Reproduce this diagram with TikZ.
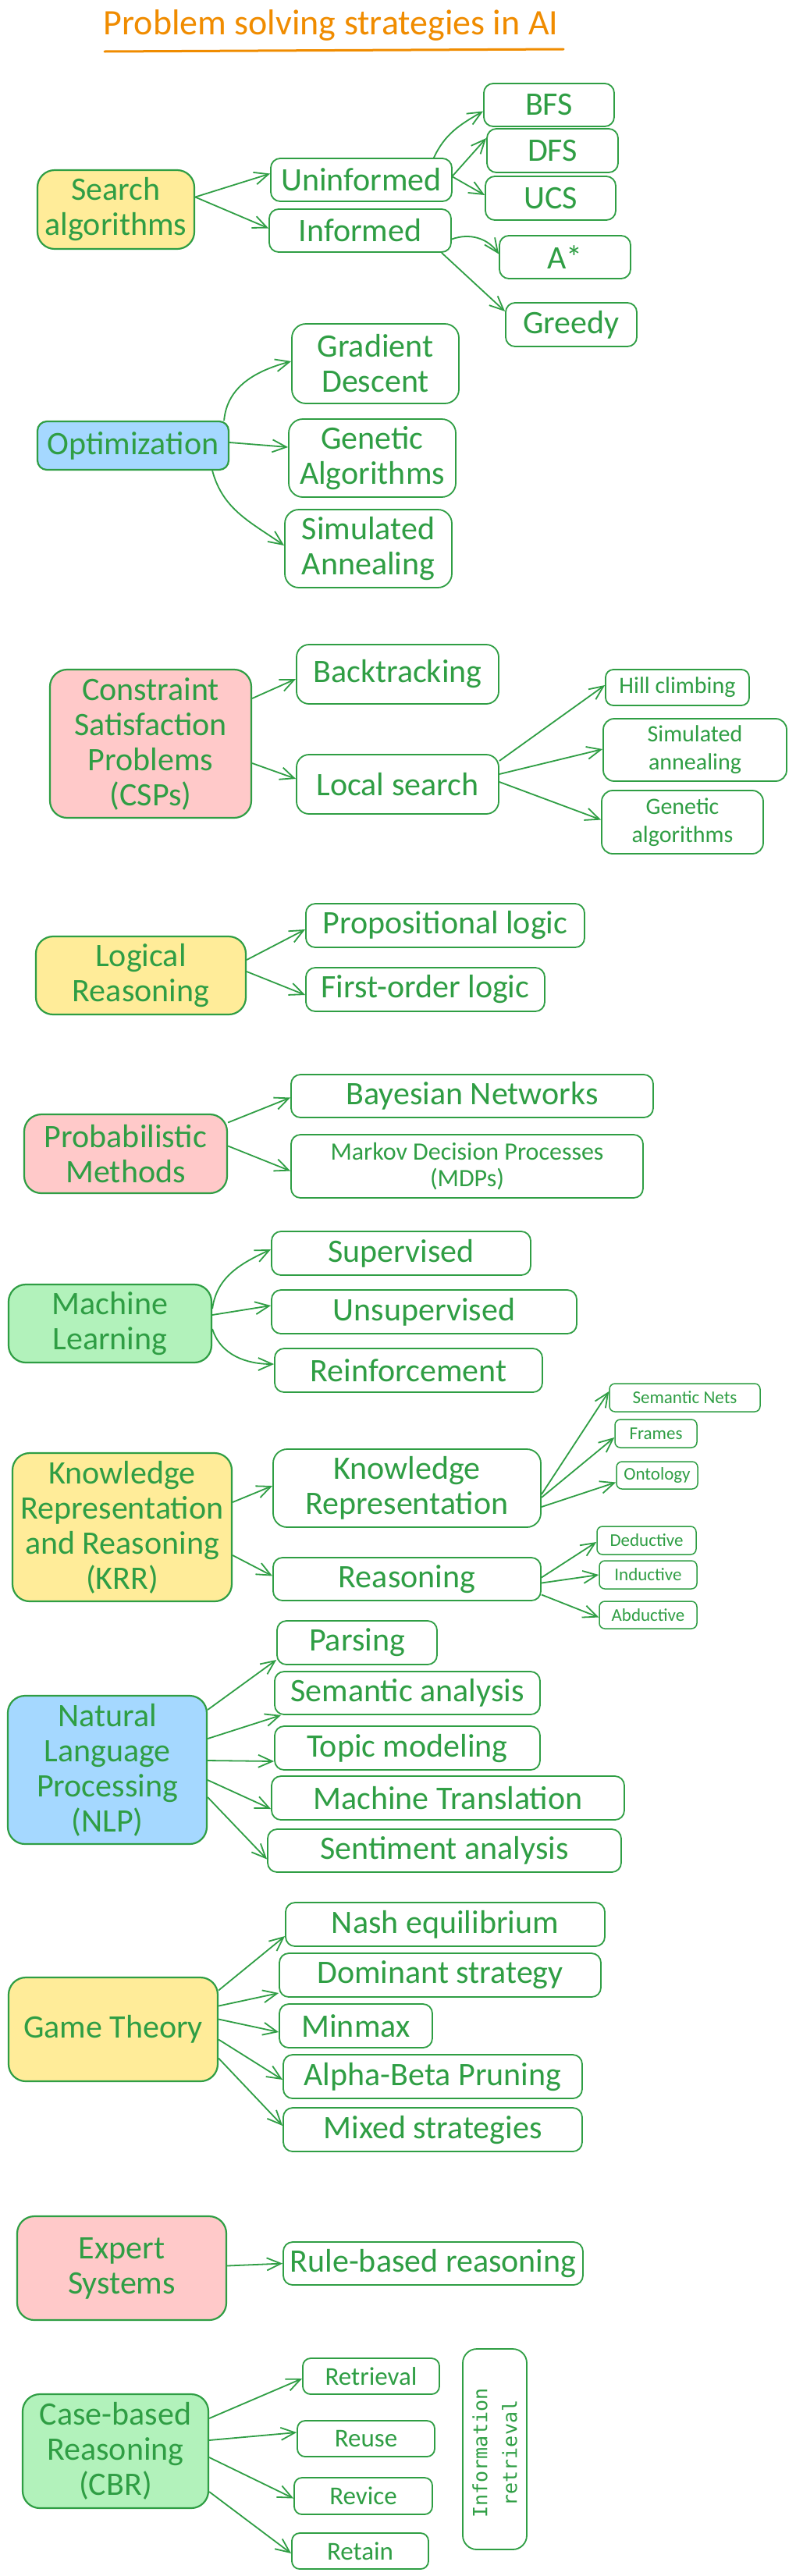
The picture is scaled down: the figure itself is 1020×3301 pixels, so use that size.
\documentclass[tikz,border=0pt]{standalone}
\usepackage{fontspec}
\setmainfont{Carlito}
\newfontfamily\monofont{DejaVu Sans Mono}
\usetikzlibrary{arrows.meta}
\definecolor{grn}{HTML}{2F9E44}
\definecolor{fyel}{HTML}{FFEC99}
\definecolor{fblu}{HTML}{A5D8FF}
\definecolor{fred}{HTML}{FFC9C9}
\definecolor{fgrn}{HTML}{B2F2BB}
\definecolor{orng}{HTML}{F08C00}
\tikzset{
  box/.style={draw=grn, line width=1.8pt, rounded corners=12pt, text=grn, fill=white,
    inner sep=0pt, align=center, font=\fontsize{42}{45}\selectfont},
  parentbox/.style={box, line width=2.2pt, rounded corners=22pt},
  nsmall/.style={font=\fontsize{30}{36}\selectfont, rounded corners=10pt},
  nmid/.style={font=\fontsize{33}{36}\selectfont, rounded corners=10pt},
  ntiny/.style={font=\fontsize{23}{26}\selectfont, rounded corners=7pt, line width=1.5pt},
  sz/.style 2 args={minimum width=#1, minimum height=#2},
  arr/.style={draw=grn, line width=1.8pt, -{Straight Barb[length=18pt,width=16pt]}},
}
\begin{document}
\begin{tikzpicture}[x=1pt,y=-1pt]
\useasboundingbox[fill=white] (0,0) rectangle (1020,3301);

% title
\node[text=orng, font=\fontsize{46}{50}\selectfont, anchor=base, inner sep=0pt] (title) at (424,44) {Problem solving strategies in AI};
\coordinate (ul1) at (134,66);
\coordinate (ul2) at (722,63);
\draw[orng, line width=3pt, line cap=round] (ul1) -- (ul2);

% Search algorithms
\node[parentbox, fill=fyel, sz={201}{101}] (sa) at (148.5,268.5) {Search\\algorithms};
\node[box, sz={232}{55}] (un) at (463,230.5) {Uninformed};
\node[box, sz={233}{55}] (inf) at (461.5,295.5) {Informed};
\node[box, sz={167}{55}] (bfs) at (703.5,134.5) {BFS};
\node[box, sz={168}{56}] (dfs) at (708,193) {DFS};
\node[box, sz={167}{56}] (ucs) at (705.5,254) {UCS};
\node[box, sz={168}{55}] (ast) at (724,329.5) {A*};
\node[box, sz={168}{56}] (gre) at (732,416) {Greedy};

% Optimization
\node[parentbox, fill=fblu, rounded corners=12pt, sz={245}{62}] (opt) at (170.5,571) {Optimization};
\node[box, rounded corners=18pt, sz={214}{102}] (gd) at (481,466) {Gradient\\Descent};
\node[box, rounded corners=18pt, sz={214}{100}] (ga) at (477,587) {Genetic\\Algorithms};
\node[box, rounded corners=18pt, sz={214}{100}] (sim) at (472,703) {Simulated\\Annealing};

% CSP
\node[parentbox, fill=fred, sz={258}{190}] (csp) at (193,953) {Constraint\\Satisfaction\\Problems\\(CSPs)};
\node[box, rounded corners=16pt, sz={259}{76}] (bt) at (509.5,864) {Backtracking};
\node[box, rounded corners=16pt, sz={259}{76}] (ls) at (509.5,1005) {Local search};
\node[box, nsmall, sz={184}{46}] (hill) at (868,881) {Hill climbing};
\node[box, nsmall, rounded corners=14pt, sz={235}{80}] (sa2) at (890.5,961) {Simulated\\annealing};
\node[box, nsmall, rounded corners=14pt, sz={207}{81}] (ga2) at (874.5,1053.5) {Genetic\\algorithms};

% Logical reasoning
\node[parentbox, fill=fyel, sz={269}{100}] (lr) at (180.5,1250) {Logical\\Reasoning};
\node[box, sz={357}{56}] (pl) at (570.5,1186) {Propositional logic};
\node[box, sz={306}{56}] (fol) at (545,1268) {First-order logic};

% Probabilistic
\node[parentbox, fill=fred, sz={260}{101}] (pm) at (161,1478.5) {Probabilistic\\Methods};
\node[box, sz={464}{55}] (bn) at (605,1404.5) {Bayesian Networks};
\node[box, font=\fontsize{32}{34}\selectfont, sz={451}{81}] (mdp) at (598.5,1494.5) {Markov Decision Processes\\(MDPs)};

% Machine learning
\node[parentbox, fill=fgrn, sz={260}{100}] (ml) at (141,1696) {Machine\\Learning};
\node[box, sz={332}{56}] (sup) at (514,1606) {Supervised};
\node[box, sz={391}{56}] (uns) at (543.5,1681) {Unsupervised};
\node[box, sz={343}{56}] (rein) at (523.5,1756) {Reinforcement};

% KRR
\node[parentbox, fill=fyel, sz={281}{190}] (krr) at (156.5,1957) {Knowledge\\Representation\\and Reasoning\\(KRR)};
\node[box, rounded corners=18pt, sz={343}{100}] (kr) at (521.5,1907) {Knowledge\\Representation};
\node[box, sz={343}{55}] (rsn) at (521.5,2023.5) {Reasoning};
\node[box, ntiny, sz={193}{36}] (sn) at (877.5,1791) {Semantic Nets};
\node[box, ntiny, sz={105}{36}] (fr) at (840.5,1837) {Frames};
\node[box, ntiny, sz={104}{35}] (ont) at (842,1890.5) {Ontology};
\node[box, ntiny, sz={127}{36}] (ded) at (828.5,1974) {Deductive};
\node[box, ntiny, sz={125}{36}] (ind) at (830.5,2018) {Inductive};
\node[box, ntiny, sz={125}{35}] (abd) at (830.5,2069.5) {Abductive};

% NLP
\node[parentbox, fill=fblu, sz={255}{190}] (nlp) at (137.5,2268) {Natural\\Language\\Processing\\(NLP)};
\node[box, sz={205}{56}] (pars) at (457.5,2105) {Parsing};
\node[box, sz={340}{55}] (sema) at (522,2169.5) {Semantic analysis};
\node[box, sz={340}{56}] (top) at (522,2240) {Topic modeling};
\node[box, sz={452}{56}] (mt) at (574,2304) {Machine Translation};
\node[box, sz={453}{55}] (sent) at (569.5,2371.5) {Sentiment analysis};

% Game theory
\node[parentbox, fill=fyel, sz={268}{133}] (gt) at (145,2600.5) {Game Theory};
\node[box, sz={409}{56}] (nash) at (570.5,2466) {Nash equilibrium};
\node[box, sz={412}{56}] (dom) at (564,2531) {Dominant strategy};
\node[box, sz={196}{56}] (mm) at (456,2596) {Minmax};
\node[box, sz={383}{56}] (ab) at (554.5,2661) {Alpha-Beta Pruning};
\node[box, sz={383}{56}] (mix) at (554.5,2729) {Mixed strategies};

% Expert systems
\node[parentbox, fill=fred, sz={268}{133}] (es) at (156,2906.5) {Expert\\Systems};
\node[box, sz={384}{55}] (rule) at (555,2900.5) {Rule-based reasoning};

% CBR
\node[parentbox, fill=fgrn, sz={238}{146}] (cbr) at (148,3141) {Case-based\\Reasoning\\(CBR)};
\node[box, nmid, sz={175}{46}] (retr) at (475.5,3045) {Retrieval};
\node[box, nmid, sz={176}{46}] (reuse) at (469,3125) {Reuse};
\node[box, nmid, sz={177}{47}] (rev) at (465.5,3198.5) {Revice};
\node[box, nmid, sz={175}{46}] (ret) at (461.5,3269) {Retain};
\node[box, rounded corners=18pt, sz={82}{257}] (ir) at (634,3138.5) {};
\node[text=grn, rotate=90, align=center, inner sep=0pt, font=\monofont\fontsize{25}{38}\selectfont] (irt) at ([yshift=-5]ir.center) {Information\\retrieval};

% arrows: search
\draw[arr] ([yshift=16]sa.east) -- ([yshift=8]un.west);
\draw[arr] ([yshift=16]sa.east) -- ([yshift=3]inf.west);
\draw[arr] ([xshift=-24]un.north east) to[out=65,in=210] ([yshift=-8]bfs.west);
\draw[arr] ([yshift=5]un.east) -- ([yshift=16]dfs.west);
\draw[arr] ([yshift=4]un.east) -- ([yshift=4]ucs.west);
\draw[arr] ([yshift=-11]inf.east) to[out=20,in=125] ([yshift=4]ast.west);
\draw[arr] ([xshift=-13]inf.south east) -- ([yshift=17]gre.west);

% optimization
\draw[arr] ([xshift=-7]opt.north east) to[out=85,in=195] ([yshift=3]gd.west);
\draw[arr] ([yshift=4]opt.east) -- ([yshift=14]ga.west);
\draw[arr] ([xshift=-22]opt.south east) to[out=-75,in=145] ([yshift=4]sim.west);

% csp
\draw[arr] ([yshift=58]csp.east) -- ([yshift=-6]bt.west);
\draw[arr] ([yshift=-25]csp.east) -- ([yshift=7]ls.west);
\draw[arr] ([yshift=30]ls.east) -- ([yshift=3]hill.west);
\draw[arr] ([yshift=13]ls.east) -- ([yshift=1]sa2.west);
\draw[arr] ([yshift=3]ls.east) -- ([yshift=3]ga2.west);

% logical
\draw[arr] ([yshift=20]lr.east) -- ([yshift=-5]pl.west);
\draw[arr] ([yshift=5]lr.east) -- ([yshift=-7]fol.west);

% probabilistic
\draw[arr] ([yshift=40]pm.east) -- ([yshift=-2]bn.west);
\draw[arr] ([yshift=10]pm.east) -- ([yshift=-6]mdp.west);

% machine learning
\draw[arr] ([yshift=19]ml.east) to[out=82,in=205] ([yshift=5]sup.west);
\draw[arr] ([yshift=11]ml.east) -- ([yshift=8]uns.west);
\draw[arr] ([yshift=-7]ml.east) to[out=-72,in=180] ([yshift=8]rein.west);

% krr
\draw[arr] ([yshift=32]krr.east) -- ([yshift=3]kr.west);
\draw[arr] ([yshift=-36]krr.east) -- ([yshift=4]rsn.west);
\draw[arr] ([yshift=-8]kr.east) -- ([yshift=8]sn.west);
\draw[arr] ([yshift=-12]kr.east) -- ([yshift=-5]fr.west);
\draw[arr] ([yshift=-24]kr.east) -- ([yshift=-9]ont.west);
\draw[arr] ([yshift=2]rsn.east) -- ([yshift=-2]ded.west);
\draw[arr] ([yshift=-5]rsn.east) -- (ind.west);
\draw[arr] ([yshift=-20]rsn.east) -- ([yshift=-3]abd.west);

% nlp
\draw[arr] ([yshift=77]nlp.east) -- ([yshift=-22]pars.west);
\draw[arr] ([yshift=40]nlp.east) -- ([xshift=9]sema.south west);
\draw[arr] ([yshift=12]nlp.east) -- ([yshift=-17]top.west);
\draw[arr] ([yshift=-13]nlp.east) -- ([yshift=-14]mt.west);
\draw[arr] ([yshift=-35]nlp.east) -- ([yshift=-11]sent.west);

% game theory
\draw[arr] ([yshift=50]gt.east) -- ([yshift=-15]nash.west);
\draw[arr] ([yshift=30]gt.east) -- ([yshift=-23]dom.west);
\draw[arr] ([yshift=13]gt.east) -- ([yshift=-8]mm.west);
\draw[arr] ([yshift=-13]gt.east) -- ([yshift=-4]ab.west);
\draw[arr] ([yshift=-37]gt.east) -- ([yshift=5]mix.west);

% expert
\draw[arr] ([yshift=3]es.east) -- (rule.west);

% cbr
\draw[arr] ([yshift=42]cbr.east) -- ([yshift=-3]retr.west);
\draw[arr] ([yshift=14]cbr.east) -- ([yshift=8]reuse.west);
\draw[arr] ([yshift=-8]cbr.east) -- ([yshift=-3]rev.west);
\draw[arr] ([yshift=-52]cbr.east) -- ([yshift=-3]ret.west);
\end{tikzpicture}
\end{document}
